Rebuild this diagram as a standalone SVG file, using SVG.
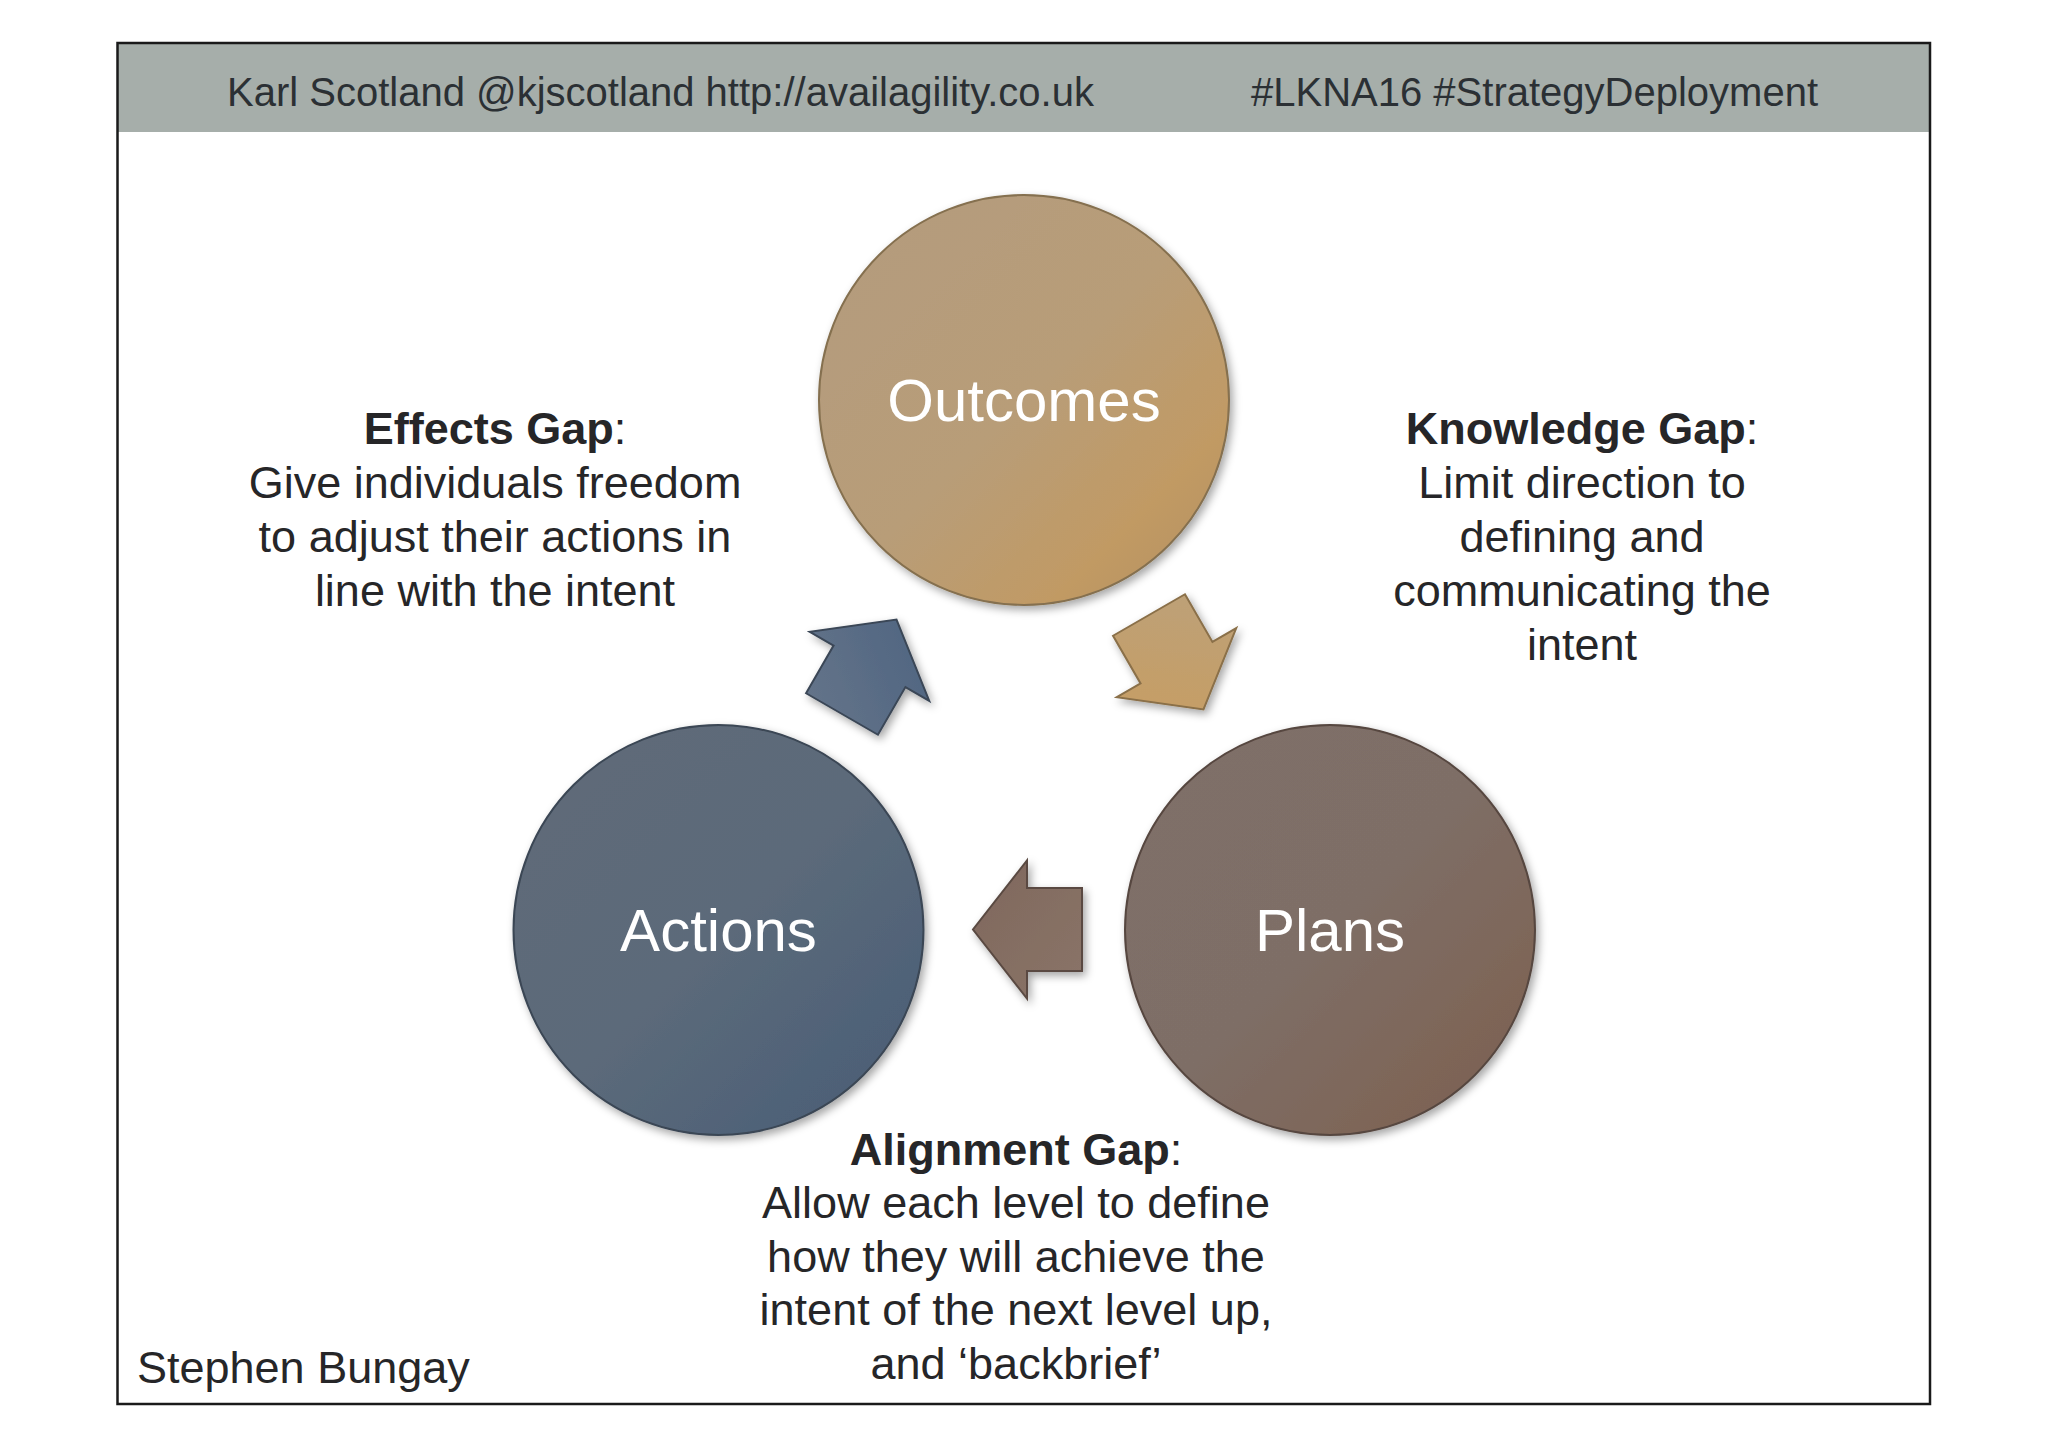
<svg xmlns="http://www.w3.org/2000/svg" width="2048" height="1447" viewBox="0 0 2048 1447">
  <style>
    .hdr { font-family: "Liberation Sans", Arial, sans-serif; font-size: 40px; fill: #2b3034; }
    .lbl { font-family: "Liberation Sans", Arial, sans-serif; font-size: 60px; fill: #ffffff; text-anchor: middle; }
    .gap { font-family: "Liberation Sans", Arial, sans-serif; font-size: 45px; fill: #262628; text-anchor: middle; }
    .b { font-weight: bold; }
    .credit { font-family: "Liberation Sans", Arial, sans-serif; font-size: 45px; fill: #262628; }
  </style>
  <defs>
    <filter id="shadow" x="-20%" y="-20%" width="140%" height="140%">
      <feDropShadow dx="3" dy="4" stdDeviation="4" flood-color="#000" flood-opacity="0.35"/>
    </filter>
    <linearGradient id="gOut" x1="0" y1="0" x2="1" y2="1">
      <stop offset="0" stop-color="#b39b7e"/>
      <stop offset="0.5" stop-color="#b89d78"/>
      <stop offset="0.78" stop-color="#c19a64"/>
      <stop offset="1" stop-color="#b38f62"/>
    </linearGradient>
    <linearGradient id="gAct" x1="0" y1="0" x2="1" y2="1">
      <stop offset="0" stop-color="#5f6a78"/>
      <stop offset="0.5" stop-color="#5c6a7a"/>
      <stop offset="0.8" stop-color="#4f6278"/>
      <stop offset="1" stop-color="#4d5d72"/>
    </linearGradient>
    <linearGradient id="gPla" x1="0" y1="0" x2="1" y2="1">
      <stop offset="0" stop-color="#7f6f68"/>
      <stop offset="0.5" stop-color="#7e6e66"/>
      <stop offset="0.8" stop-color="#7e6557"/>
      <stop offset="1" stop-color="#786053"/>
    </linearGradient>
    <linearGradient id="gArrB" x1="0" y1="0" x2="1" y2="1">
      <stop offset="0" stop-color="#66758a"/>
      <stop offset="1" stop-color="#4c6380"/>
    </linearGradient>
    <linearGradient id="gArrG" x1="0" y1="0" x2="1" y2="1">
      <stop offset="0" stop-color="#bca17a"/>
      <stop offset="1" stop-color="#c89d60"/>
    </linearGradient>
    <linearGradient id="gArrP" x1="0" y1="0" x2="1" y2="1">
      <stop offset="0" stop-color="#8a7468"/>
      <stop offset="1" stop-color="#7f685d"/>
    </linearGradient>
    <path id="arrowShape" d="M0,-41.5 L55,-41.5 L55,-69 L109,0 L55,69 L55,41.5 L0,41.5 Z"/>
  </defs>

  <rect x="0" y="0" width="2048" height="1447" fill="#ffffff"/>

  <g id="frame">
    <rect x="117.5" y="43" width="1812.5" height="89" fill="#a6aeaa"/>
    <rect x="117.5" y="43" width="1812.5" height="1361" fill="none" stroke="#1a1a1a" stroke-width="2.5"/>
  </g>

  <g id="header">
    <text class="hdr" x="227" y="106">Karl Scotland @kjscotland http://availagility.co.uk</text>
    <text class="hdr" x="1251" y="106">#LKNA16 #StrategyDeployment</text>
  </g>

  <g id="connectors">
    <g id="arrow-actions-outcomes" filter="url(#shadow)">
      <use href="#arrowShape" transform="translate(842,714) rotate(-60)" fill="url(#gArrB)" stroke="#3a4656" stroke-width="2"/>
    </g>
    <g id="arrow-outcomes-plans" filter="url(#shadow)">
      <use href="#arrowShape" transform="translate(1149,615) rotate(60)" fill="url(#gArrG)" stroke="#8a6f48" stroke-width="2"/>
    </g>
    <g id="arrow-plans-actions" filter="url(#shadow)">
      <use href="#arrowShape" transform="translate(1082,929.5) rotate(180)" fill="url(#gArrP)" stroke="#5a4a42" stroke-width="2"/>
    </g>
  </g>

  <g id="node-outcomes">
    <circle cx="1024" cy="400" r="205" fill="url(#gOut)" stroke="#85704f" stroke-width="2" filter="url(#shadow)"/>
    <text class="lbl" x="1024" y="421">Outcomes</text>
  </g>
  <g id="node-actions">
    <circle cx="718.5" cy="930" r="205" fill="url(#gAct)" stroke="#3b4654" stroke-width="2" filter="url(#shadow)"/>
    <text class="lbl" x="718.5" y="951">Actions</text>
  </g>
  <g id="node-plans">
    <circle cx="1330" cy="930" r="205" fill="url(#gPla)" stroke="#574740" stroke-width="2" filter="url(#shadow)"/>
    <text class="lbl" x="1330" y="951">Plans</text>
  </g>

  <g id="effects-gap">
    <text class="gap" x="495" y="444"><tspan class="b">Effects Gap</tspan>:</text>
    <text class="gap" x="495" y="498">Give individuals freedom</text>
    <text class="gap" x="495" y="552">to adjust their actions in</text>
    <text class="gap" x="495" y="606">line with the intent</text>
  </g>

  <g id="knowledge-gap">
    <text class="gap" x="1582" y="444"><tspan class="b">Knowledge Gap</tspan>:</text>
    <text class="gap" x="1582" y="498">Limit direction to</text>
    <text class="gap" x="1582" y="552">defining and</text>
    <text class="gap" x="1582" y="606">communicating the</text>
    <text class="gap" x="1582" y="660">intent</text>
  </g>

  <g id="alignment-gap">
    <text class="gap" x="1016" y="1165"><tspan class="b">Alignment Gap</tspan>:</text>
    <text class="gap" x="1016" y="1218">Allow each level to define</text>
    <text class="gap" x="1016" y="1272">how they will achieve the</text>
    <text class="gap" x="1016" y="1325">intent of the next level up,</text>
    <text class="gap" x="1016" y="1379">and ‘backbrief’</text>
  </g>

  <g id="credit">
    <text class="credit" x="137" y="1383">Stephen Bungay</text>
  </g>
</svg>
